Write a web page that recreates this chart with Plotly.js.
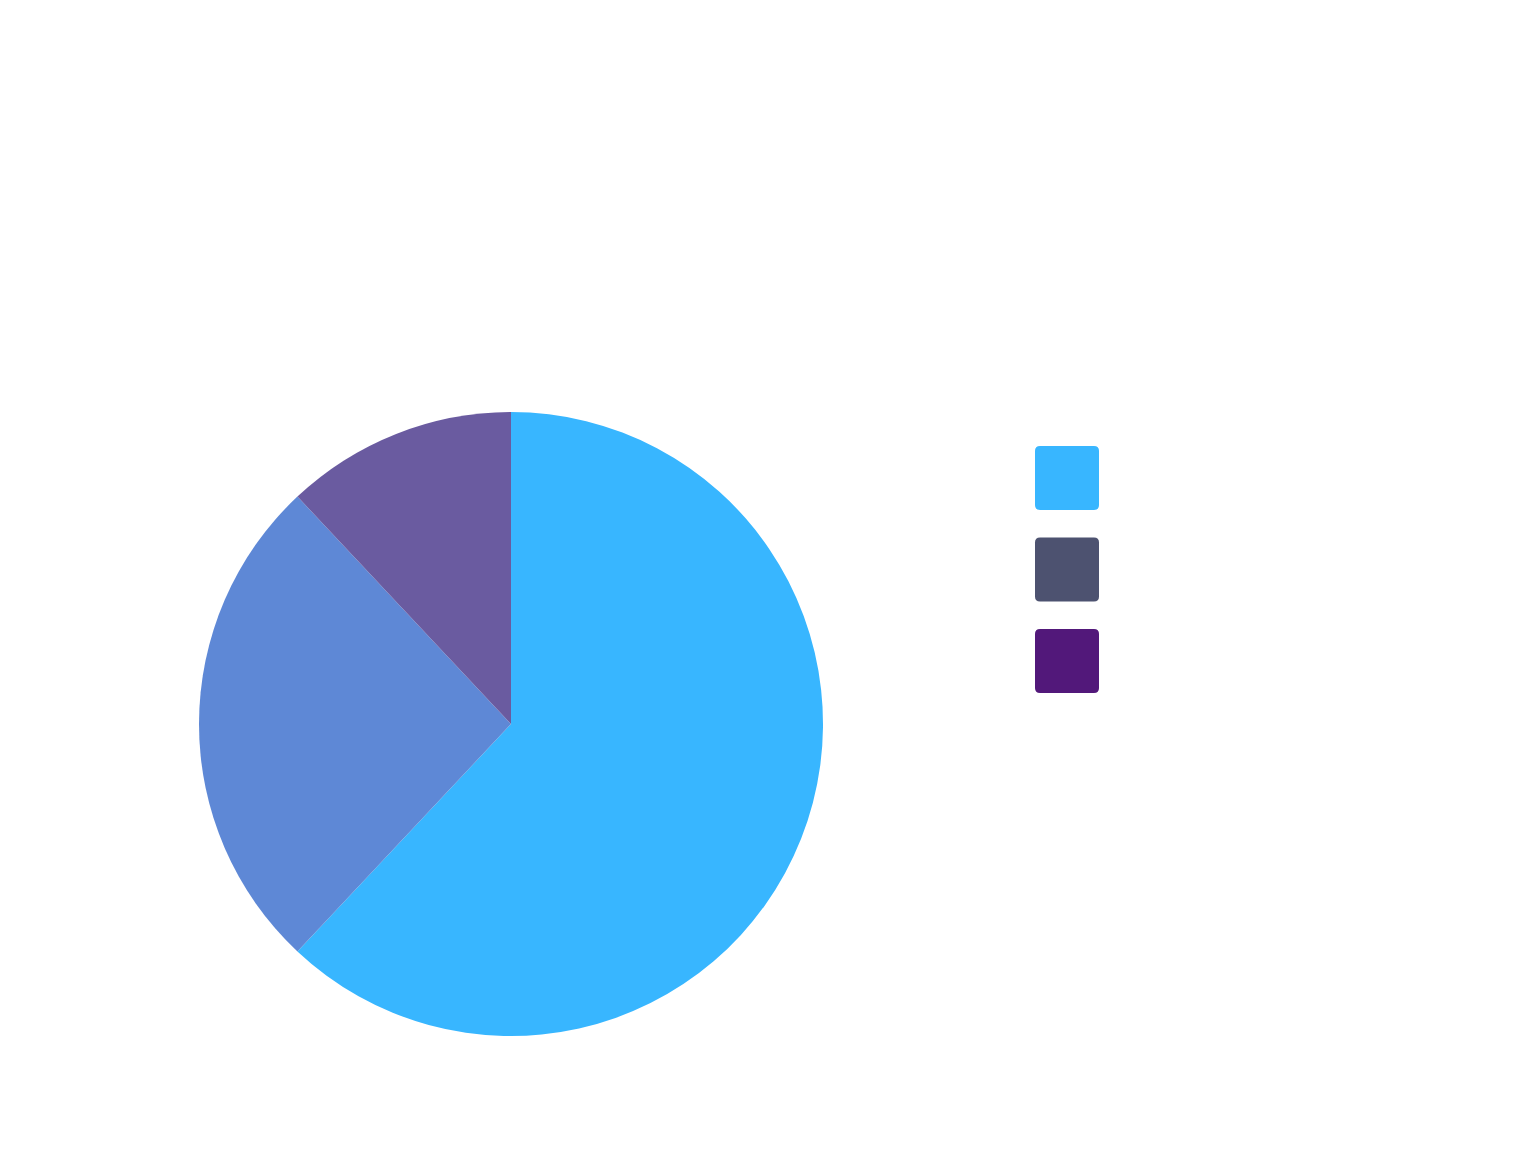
<!DOCTYPE html>
<html>
<head>
<meta charset="utf-8">
<script src="https://cdn.plot.ly/plotly-3.0.1.min.js"></script>
<style>
  html, body { margin: 0; padding: 0; background: #fff; }
  #chart { width: 1536px; height: 1152px; }
</style>
</head>
<body>
<div id="chart"></div>
<script>
// ── Dados ─────────────────────────────────────────
const categories  = ['Série 1', 'Série 2', 'Série 3'];
const values      = [62, 26, 12];
const sliceColors = ['#38B6FF', '#5E88D6', '#6A5BA0'];
const legendColors = ['#38B6FF', '#4D5270', '#52187A'];

// ── Legenda: quadrados arredondados (shapes em coordenadas paper) ──
function roundedSquare(x0, y0, size, r, color) {
  // x0, y0 em pixels (topo-esquerda); converte para paper
  const W = 1536, H = 1152;
  const px = (x) => x / W;
  const py = (y) => 1 - y / H;
  const x1 = x0 + size, y1 = y0 + size;
  const path = [
    `M ${px(x0 + r)},${py(y0)}`,
    `L ${px(x1 - r)},${py(y0)}`,
    `Q ${px(x1)},${py(y0)} ${px(x1)},${py(y0 + r)}`,
    `L ${px(x1)},${py(y1 - r)}`,
    `Q ${px(x1)},${py(y1)} ${px(x1 - r)},${py(y1)}`,
    `L ${px(x0 + r)},${py(y1)}`,
    `Q ${px(x0)},${py(y1)} ${px(x0)},${py(y1 - r)}`,
    `L ${px(x0)},${py(y0 + r)}`,
    `Q ${px(x0)},${py(y0)} ${px(x0 + r)},${py(y0)}`,
    'Z',
  ].join(' ');
  return {
    type: 'path', xref: 'paper', yref: 'paper', path,
    fillcolor: color, line: { width: 0 }, layer: 'above',
  };
}

const legendShapes = legendColors.map((c, i) =>
  roundedSquare(1035, 446 + i * 91.5, 64, 5, c)
);

const trace = {
  type: 'pie',
  labels: categories,
  values,
  sort: false,
  direction: 'clockwise',
  rotation: 0,
  textinfo: 'none',
  hoverinfo: 'label+value+percent',
  marker: { colors: sliceColors, line: { width: 0 } },
  domain: { x: [199 / 1536, 823 / 1536], y: [1 - 1036 / 1152, 1 - 412 / 1152] },
  showlegend: false,
};

const layout = {
  width: 1536,
  height: 1152,
  margin: { t: 0, b: 0, l: 0, r: 0 },
  paper_bgcolor: '#fff',
  plot_bgcolor: '#fff',
  showlegend: false,
  shapes: legendShapes,
};

Plotly.newPlot('chart', [trace], layout, { displayModeBar: false, staticPlot: true });
</script>
</body>
</html>
